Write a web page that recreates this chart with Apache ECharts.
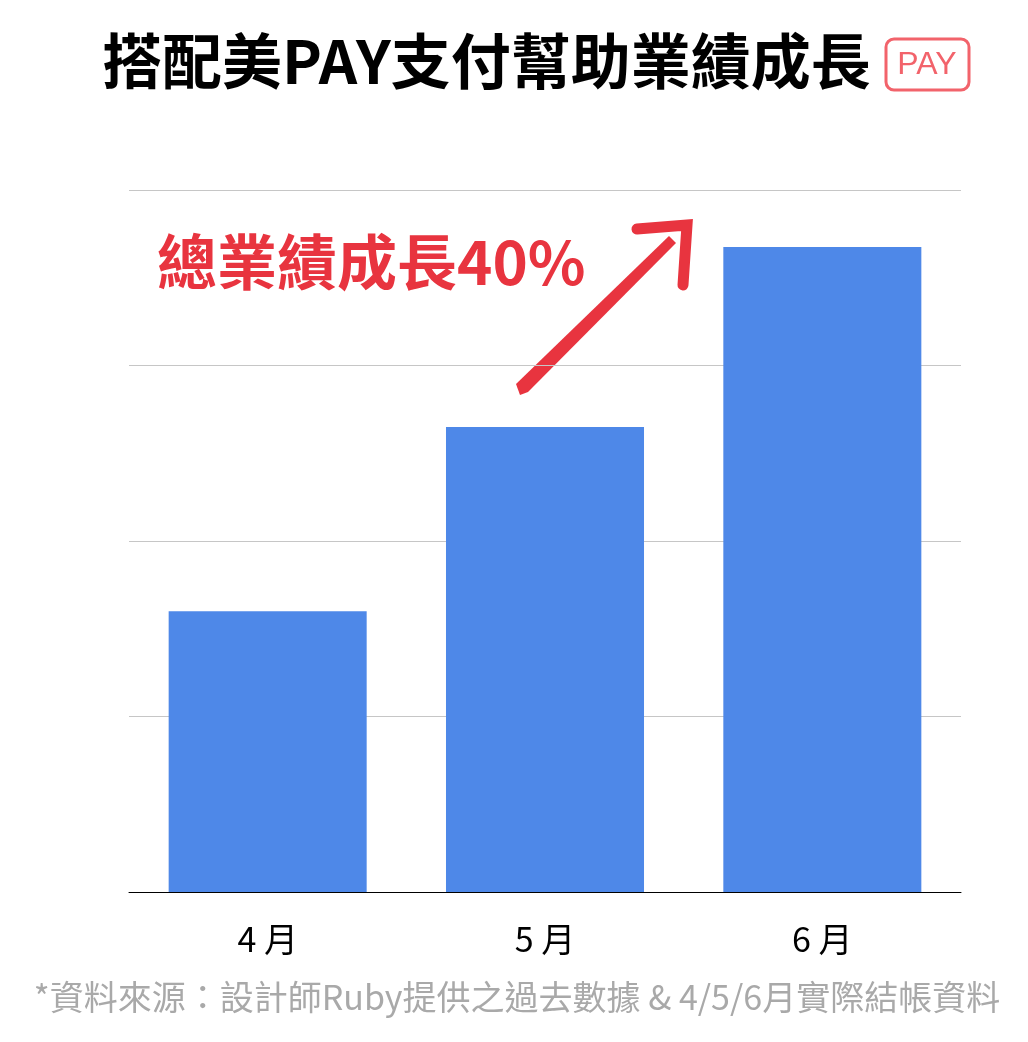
<!DOCTYPE html>
<html style="height: 100%">
<head>
    <meta charset="utf-8">
    <title>搭配美PAY支付幫助業績成長</title>
</head>
<body style="height: 100%; margin: 0; background: #fff">
<div id="container" style="height: 100%"></div>
<script type="text/javascript" src="https://cdn.jsdelivr.net/npm/echarts@6.0.0/dist/echarts.min.js"></script>
<script type="text/javascript">
    var months = ['4 月', '5 月', '6 月'];
    var sales = [1.6, 2.65, 3.675];
    var titleText = '搭配美PAY支付幫助業績成長';
    var growthText = '總業績成長40%';
    var sourceText = '*資料來源：設計師Ruby提供之過去數據 & 4/5/6月實際結帳資料';

    var cjk = '"Noto Sans CJK TC", "Noto Sans", sans-serif';
    var red = '#e8343f';

    var dom = document.getElementById('container');
    var myChart = echarts.init(dom);

    var option = {
        backgroundColor: '#fff',
        animation: false,
        title: {
            text: titleText,
            left: 97,
            top: 26,
            textStyle: { fontFamily: cjk, fontSize: 60, fontWeight: 'bold', color: '#000' }
        },
        grid: { left: 129, right: 67, top: 190, bottom: 150 },
        xAxis: {
            type: 'category',
            data: months,
            axisLine: { lineStyle: { color: '#000', width: 1 } },
            axisTick: { show: false },
            axisLabel: { margin: 30, fontSize: 34, color: '#000', fontFamily: cjk }
        },
        yAxis: {
            type: 'value',
            min: 0,
            max: 4,
            interval: 1,
            axisLabel: { show: false },
            axisLine: { show: false },
            axisTick: { show: false },
            splitLine: { lineStyle: { color: '#c6c6c6', width: 1 } }
        },
        series: [{
            type: 'bar',
            data: sales,
            barWidth: '71.4%',
            itemStyle: { color: '#4e88e8' }
        }],
        graphic: [
            {
                type: 'rect',
                shape: { x: 886, y: 39, width: 83, height: 51, r: 8 },
                style: { fill: 'none', stroke: '#f2636b', lineWidth: 3 }
            },
            {
                type: 'text',
                x: 927, y: 65,
                style: {
                    text: 'PAY', font: '32px "Liberation Sans", Arial, sans-serif',
                    fill: '#f2636b', align: 'center', verticalAlign: 'middle'
                }
            },
            {
                type: 'text',
                x: 157, y: 262,
                style: {
                    text: growthText, font: 'bold 60px ' + cjk,
                    fill: red, verticalAlign: 'middle'
                }
            },
            {
                type: 'polygon',
                shape: { points: [[516, 384], [520, 395], [528, 392], [676, 243], [669, 236]] },
                style: { fill: red }
            },
            {
                type: 'polyline',
                shape: { points: [[637, 229], [687, 225], [683, 285]] },
                style: { stroke: red, lineWidth: 11, lineCap: 'round', lineJoin: 'miter', fill: null }
            },
            {
                type: 'text',
                x: 517, y: 997,
                style: {
                    text: sourceText, font: '34px ' + cjk,
                    fill: '#a9a9a9', align: 'center', verticalAlign: 'middle'
                }
            }
        ]
    };

    myChart.setOption(option);
    window.onresize = function () {
        myChart.resize();
    };
</script>
</body>
</html>
